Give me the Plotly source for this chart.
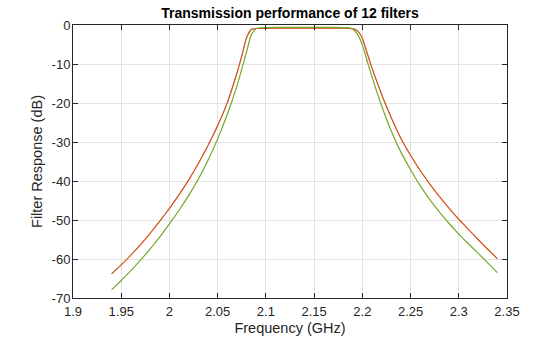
import plotly.graph_objects as go

# Frequency samples (GHz)
freq = [1.94, 1.95, 1.96, 1.97, 1.98, 1.99, 2.00, 2.01, 2.02, 2.03, 2.04, 2.05,
        2.06, 2.07, 2.075, 2.08, 2.085, 2.09, 2.095, 2.10, 2.12, 2.14, 2.16,
        2.18, 2.185, 2.19, 2.195, 2.20, 2.205, 2.21, 2.22, 2.23, 2.24, 2.25,
        2.26, 2.27, 2.28, 2.29, 2.30, 2.31, 2.32, 2.33, 2.34]

# Wider-skirt filter response (dB)
resp_wide = [-63.8, -61.5, -59.0, -56.3, -53.4, -50.3, -47.0, -43.5, -39.7, -35.5,
             -30.9, -25.8, -19.9, -12.3, -7.9, -3.2, -1.1, -0.9, -0.85, -0.85,
             -0.8, -0.8, -0.8, -0.8, -0.85, -0.95, -1.5, -3.4, -7.2, -11.0,
             -17.8, -23.8, -29.1, -33.4, -37.3, -40.8, -44.0, -47.0, -49.8,
             -52.4, -55.0, -57.5, -59.9]

# Narrower-skirt filter response (dB)
resp_narrow = [-67.9, -65.5, -63.0, -60.3, -57.4, -54.3, -51.0, -47.5, -43.7, -39.5,
               -34.7, -29.2, -22.9, -15.6, -11.3, -6.8, -2.4, -0.9, -0.7, -0.65,
               -0.6, -0.6, -0.6, -0.65, -0.7, -1.0, -2.4, -5.1, -9.2, -13.3,
               -20.7, -27.2, -32.6, -37.1, -41.2, -44.8, -48.0, -50.9, -53.6,
               -56.1, -58.5, -61.0, -63.5]

# Which response each of the 12 filters follows
filter_group = ["wide", "wide", "wide", "wide", "narrow", "wide", "wide", "wide",
                "wide", "narrow", "narrow", "narrow"]

colors = ["#0072BD", "#D95319", "#EDB120", "#7E2F8E", "#77AC30", "#4DBEEE", "#A2142F"]

x_ticks = [1.9, 1.95, 2.0, 2.05, 2.1, 2.15, 2.2, 2.25, 2.3, 2.35]
x_tick_labels = ["1.9", "1.95", "2", "2.05", "2.1", "2.15", "2.2", "2.25", "2.3", "2.35"]
y_ticks = [-70, -60, -50, -40, -30, -20, -10, 0]
y_tick_labels = ["-70", "-60", "-50", "-40", "-30", "-20", "-10", "0"]

FONT = "Liberation Sans, Arial, sans-serif"

# last filter of each group is drawn on top at full width
top_index = {g: max(i for i, gg in enumerate(filter_group) if gg == g) for g in set(filter_group)}

fig = go.Figure()
for i, g in enumerate(filter_group):
    y = resp_wide if g == "wide" else resp_narrow
    w = 1.2 if top_index[g] == i else 0.1
    fig.add_trace(go.Scatter(
        x=freq, y=y, mode="lines",
        line=dict(color=colors[i % len(colors)], width=w, shape="spline", smoothing=0.5),
        showlegend=False, name=f"Filter {i+1}"))

axis_common = dict(
    showline=True, linecolor="#262626", linewidth=1, mirror="allticks",
    ticks="inside", ticklen=5, tickcolor="#262626", tickwidth=1,
    showgrid=True, gridcolor="#e3e3e3", gridwidth=1, zeroline=False,
    automargin=False,
    tickfont=dict(family=FONT, size=13, color="#262626"),
)

fig.update_layout(
    width=560, height=337,
    margin=dict(l=73, r=53, t=25, b=39),
    paper_bgcolor="white", plot_bgcolor="white",
    title=dict(text="<b>Transmission performance of 12 filters</b>",
               x=0.5, xref="paper", xanchor="center", y=1 - 13/337, yanchor="middle",
               font=dict(family=FONT, size=14, color="#000000")),
    xaxis=dict(range=[1.9, 2.35], tickvals=x_ticks, ticktext=x_tick_labels,
               ticklabelstandoff=1,
               title=dict(text="Frequency (GHz)", standoff=5,
                          font=dict(family=FONT, size=14.5, color="#262626")),
               **axis_common),
    yaxis=dict(range=[-70, 0], tickvals=y_ticks, ticktext=y_tick_labels,
               ticklabelstandoff=-1,
               title=dict(text="Filter Response (dB)", standoff=5,
                          font=dict(family=FONT, size=14.5, color="#262626")),
               **axis_common),
)

fig.write_html("out.html")
